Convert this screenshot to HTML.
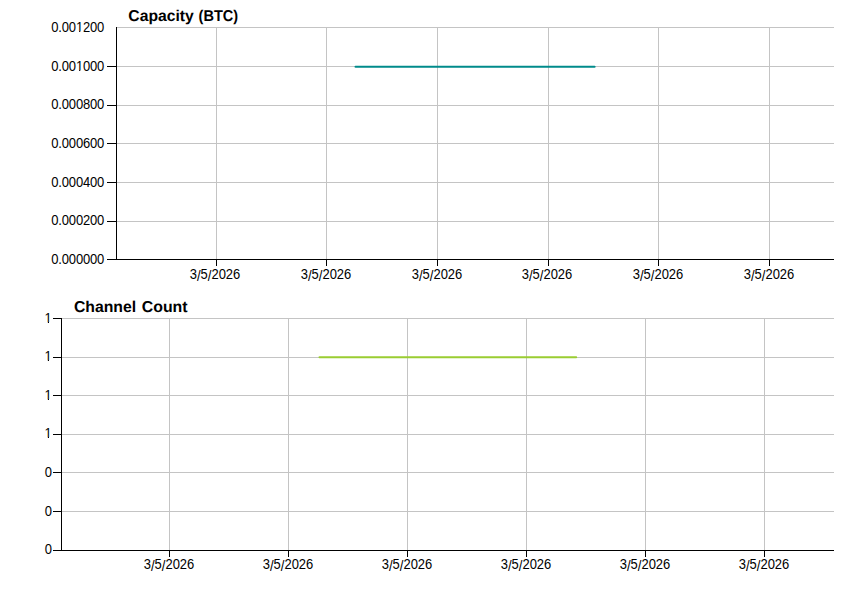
<!DOCTYPE html>
<html lang="en">
<head>
<meta charset="utf-8">
<title>Charts</title>
<style>
html,body{margin:0;padding:0;background:#fff;}
body{width:860px;height:600px;overflow:hidden;}
svg{display:block;}
.a{font-family:"Liberation Sans",Arial,sans-serif;font-size:13px;fill:#000;}
.y{letter-spacing:-0.15px;}
.t{font-family:"Liberation Sans",Arial,sans-serif;font-size:15.7px;font-weight:bold;fill:#000;text-rendering:geometricPrecision;}
</style>
</head>
<body>
<svg width="860" height="600" viewBox="0 0 860 600">
<rect x="0" y="0" width="860" height="600" fill="#ffffff"/>
<defs>
<clipPath id="k1"><path clip-rule="evenodd" d="M-20,-14H4V4H-20Z M-8,-1.02H-3.96V0.8H-8Z M-2.81,-1.02H1V0.8H-2.81Z"/></clipPath>
<clipPath id="k2"><path clip-rule="evenodd" d="M-70,-14H4V4H-70Z M-28.3,-1.02H-25.05V0.8H-28.3Z M-23.9,-1.02H-21.0V0.8H-23.9Z"/></clipPath>
</defs>
<g>
<rect x="117" y="27" width="717" height="1" fill="#c4c4c4"/>
<rect x="117" y="66" width="717" height="1" fill="#c4c4c4"/>
<rect x="117" y="105" width="717" height="1" fill="#c4c4c4"/>
<rect x="117" y="143" width="717" height="1" fill="#c4c4c4"/>
<rect x="117" y="182" width="717" height="1" fill="#c4c4c4"/>
<rect x="117" y="221" width="717" height="1" fill="#c4c4c4"/>
<rect x="216" y="27" width="1" height="232" fill="#c4c4c4"/>
<rect x="326" y="27" width="1" height="232" fill="#c4c4c4"/>
<rect x="437" y="27" width="1" height="232" fill="#c4c4c4"/>
<rect x="548" y="27" width="1" height="232" fill="#c4c4c4"/>
<rect x="658" y="27" width="1" height="232" fill="#c4c4c4"/>
<rect x="769" y="27" width="1" height="232" fill="#c4c4c4"/>
<line x1="355.5" y1="66.75" x2="594.65" y2="66.75" stroke="#008b8b" stroke-width="2" stroke-linecap="round"/>
<rect x="116" y="27" width="1" height="233" fill="#000"/>
<rect x="116" y="259" width="718" height="1" fill="#000"/>
<rect x="107" y="66" width="9" height="1" fill="#000"/>
<rect x="107" y="105" width="9" height="1" fill="#000"/>
<rect x="107" y="143" width="9" height="1" fill="#000"/>
<rect x="107" y="182" width="9" height="1" fill="#000"/>
<rect x="107" y="221" width="9" height="1" fill="#000"/>
<rect x="107" y="259" width="9" height="1" fill="#000"/>
<rect x="216" y="259" width="1" height="7" fill="#000"/>
<rect x="326" y="259" width="1" height="7" fill="#000"/>
<rect x="437" y="259" width="1" height="7" fill="#000"/>
<rect x="548" y="259" width="1" height="7" fill="#000"/>
<rect x="658" y="259" width="1" height="7" fill="#000"/>
<rect x="769" y="259" width="1" height="7" fill="#000"/>
<text class="a y" text-anchor="end" clip-path="url(#k2)" transform="translate(104.2,32) scale(1,1.077)">0.001200</text>
<text class="a y" text-anchor="end" clip-path="url(#k2)" transform="translate(104.2,71) scale(1,1.077)">0.001000</text>
<text class="a y" text-anchor="end" transform="translate(104.2,109) scale(1,1.077)">0.000800</text>
<text class="a y" text-anchor="end" transform="translate(104.2,148) scale(1,1.077)">0.000600</text>
<text class="a y" text-anchor="end" transform="translate(104.2,187) scale(1,1.077)">0.000400</text>
<text class="a y" text-anchor="end" transform="translate(104.2,225) scale(1,1.077)">0.000200</text>
<text class="a y" text-anchor="end" transform="translate(104.2,264) scale(1,1.077)">0.000000</text>
<text class="a" transform="translate(189.7,279) scale(1,1.077)">3<tspan dy="1.7">/</tspan><tspan dy="-1.7">5</tspan><tspan dy="1.7">/</tspan><tspan dy="-1.7">2026</tspan></text>
<text class="a" transform="translate(300.7,279) scale(1,1.077)">3<tspan dy="1.7">/</tspan><tspan dy="-1.7">5</tspan><tspan dy="1.7">/</tspan><tspan dy="-1.7">2026</tspan></text>
<text class="a" transform="translate(411.7,279) scale(1,1.077)">3<tspan dy="1.7">/</tspan><tspan dy="-1.7">5</tspan><tspan dy="1.7">/</tspan><tspan dy="-1.7">2026</tspan></text>
<text class="a" transform="translate(521.7,279) scale(1,1.077)">3<tspan dy="1.7">/</tspan><tspan dy="-1.7">5</tspan><tspan dy="1.7">/</tspan><tspan dy="-1.7">2026</tspan></text>
<text class="a" transform="translate(632.7,279) scale(1,1.077)">3<tspan dy="1.7">/</tspan><tspan dy="-1.7">5</tspan><tspan dy="1.7">/</tspan><tspan dy="-1.7">2026</tspan></text>
<text class="a" transform="translate(743.7,279) scale(1,1.077)">3<tspan dy="1.7">/</tspan><tspan dy="-1.7">5</tspan><tspan dy="1.7">/</tspan><tspan dy="-1.7">2026</tspan></text>
<text class="t" y="20.5"><tspan x="128.3" textLength="65.5" lengthAdjust="spacingAndGlyphs">Capacity</tspan> <tspan x="198.6" textLength="39.6" lengthAdjust="spacingAndGlyphs">(BTC)</tspan></text>
</g>
<g>
<rect x="62" y="318" width="772" height="1" fill="#c4c4c4"/>
<rect x="62" y="357" width="772" height="1" fill="#c4c4c4"/>
<rect x="62" y="395" width="772" height="1" fill="#c4c4c4"/>
<rect x="62" y="434" width="772" height="1" fill="#c4c4c4"/>
<rect x="62" y="472" width="772" height="1" fill="#c4c4c4"/>
<rect x="62" y="511" width="772" height="1" fill="#c4c4c4"/>
<rect x="169" y="318" width="1" height="232" fill="#c4c4c4"/>
<rect x="288" y="318" width="1" height="232" fill="#c4c4c4"/>
<rect x="407" y="318" width="1" height="232" fill="#c4c4c4"/>
<rect x="526" y="318" width="1" height="232" fill="#c4c4c4"/>
<rect x="645" y="318" width="1" height="232" fill="#c4c4c4"/>
<rect x="764" y="318" width="1" height="232" fill="#c4c4c4"/>
<line x1="319.5" y1="357.35" x2="576.2" y2="357.35" stroke="#9acd32" stroke-width="2" stroke-linecap="round"/>
<rect x="61" y="318" width="1" height="233" fill="#000"/>
<rect x="61" y="550" width="773" height="1" fill="#000"/>
<rect x="53" y="318" width="8" height="1" fill="#000"/>
<rect x="53" y="357" width="8" height="1" fill="#000"/>
<rect x="53" y="395" width="8" height="1" fill="#000"/>
<rect x="53" y="434" width="8" height="1" fill="#000"/>
<rect x="53" y="472" width="8" height="1" fill="#000"/>
<rect x="53" y="511" width="8" height="1" fill="#000"/>
<rect x="53" y="550" width="8" height="1" fill="#000"/>
<rect x="169" y="550" width="1" height="7" fill="#000"/>
<rect x="288" y="550" width="1" height="7" fill="#000"/>
<rect x="407" y="550" width="1" height="7" fill="#000"/>
<rect x="526" y="550" width="1" height="7" fill="#000"/>
<rect x="645" y="550" width="1" height="7" fill="#000"/>
<rect x="764" y="550" width="1" height="7" fill="#000"/>
<text class="a" text-anchor="end" clip-path="url(#k1)" transform="translate(51.8,323) scale(1,1.077)">1</text>
<text class="a" text-anchor="end" clip-path="url(#k1)" transform="translate(51.8,361) scale(1,1.077)">1</text>
<text class="a" text-anchor="end" clip-path="url(#k1)" transform="translate(51.8,400) scale(1,1.077)">1</text>
<text class="a" text-anchor="end" clip-path="url(#k1)" transform="translate(51.8,438) scale(1,1.077)">1</text>
<text class="a y" text-anchor="end" transform="translate(51.8,477) scale(1,1.077)">0</text>
<text class="a y" text-anchor="end" transform="translate(51.8,516) scale(1,1.077)">0</text>
<text class="a y" text-anchor="end" transform="translate(51.8,554) scale(1,1.077)">0</text>
<text class="a" transform="translate(143.7,569) scale(1,1.077)">3<tspan dy="1.7">/</tspan><tspan dy="-1.7">5</tspan><tspan dy="1.7">/</tspan><tspan dy="-1.7">2026</tspan></text>
<text class="a" transform="translate(262.7,569) scale(1,1.077)">3<tspan dy="1.7">/</tspan><tspan dy="-1.7">5</tspan><tspan dy="1.7">/</tspan><tspan dy="-1.7">2026</tspan></text>
<text class="a" transform="translate(381.7,569) scale(1,1.077)">3<tspan dy="1.7">/</tspan><tspan dy="-1.7">5</tspan><tspan dy="1.7">/</tspan><tspan dy="-1.7">2026</tspan></text>
<text class="a" transform="translate(500.7,569) scale(1,1.077)">3<tspan dy="1.7">/</tspan><tspan dy="-1.7">5</tspan><tspan dy="1.7">/</tspan><tspan dy="-1.7">2026</tspan></text>
<text class="a" transform="translate(619.7,569) scale(1,1.077)">3<tspan dy="1.7">/</tspan><tspan dy="-1.7">5</tspan><tspan dy="1.7">/</tspan><tspan dy="-1.7">2026</tspan></text>
<text class="a" transform="translate(738.7,569) scale(1,1.077)">3<tspan dy="1.7">/</tspan><tspan dy="-1.7">5</tspan><tspan dy="1.7">/</tspan><tspan dy="-1.7">2026</tspan></text>
<text class="t" y="311.5"><tspan x="73.9" textLength="62.2" lengthAdjust="spacingAndGlyphs">Channel</tspan> <tspan x="141.8" textLength="45.8" lengthAdjust="spacingAndGlyphs">Count</tspan></text>
</g>
</svg>
</body>
</html>
